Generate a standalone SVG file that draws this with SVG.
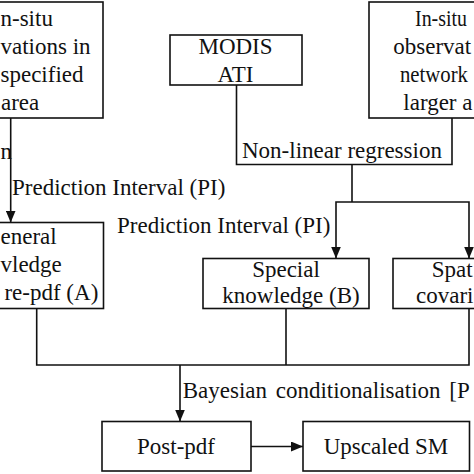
<svg xmlns="http://www.w3.org/2000/svg" width="474" height="474" viewBox="0 0 474 474">
<style>
.box{fill:#fff;stroke:#111;stroke-width:1.6}
.ln{fill:none;stroke:#111;stroke-width:1.6}
.t{font-family:"Liberation Serif","Times New Roman",serif;font-size:23px;fill:#111}
.c{text-anchor:middle}
.e{text-anchor:end}
</style>
<defs>
<marker id="ah" viewBox="0 0 12 10" markerUnits="userSpaceOnUse" markerWidth="12" markerHeight="10" refX="12" refY="5" orient="auto">
<path d="M0,0 L12,5 L0,10 z" fill="#111"/>
</marker>
</defs>
<rect width="474" height="474" fill="#fff"/>
<g id="connectors">
<path class="ln" d="M10.7,118 V222.5" marker-end="url(#ah)"/>
<path class="ln" d="M236.5,85 V164.5 H452 V118"/>
<path class="ln" d="M352,164.5 V202"/>
<path class="ln" d="M352,202 H336 V258.5" marker-end="url(#ah)"/>
<path class="ln" d="M352,202 H469 V258.5" marker-end="url(#ah)"/>
<path class="ln" d="M36.7,308.5 V365 H469 V308.5"/>
<path class="ln" d="M286,308.5 V365"/>
<path class="ln" d="M180,365 V421.5" marker-end="url(#ah)"/>
<path class="ln" d="M251,446.5 H303" marker-end="url(#ah)"/>
<text class="t" x="0.5" y="159">n</text>
<text class="t" x="242" y="158">Non-linear regression</text>
<text class="t" x="12" y="195">Prediction Interval (PI)</text>
<text class="t" x="117" y="232.7">Prediction Interval (PI)</text>
<text class="t" x="182.7" y="398" word-spacing="3">Bayesian conditionalisation [P</text>
</g>
<g id="node-insitu-specified">
<rect class="box" x="-20" y="2" width="123" height="116"/>
<text class="t" x="0.5" y="26">n-situ</text>
<text class="t" x="0.5" y="54">vations in</text>
<text class="t" x="0.5" y="82">specified</text>
<text class="t" x="1" y="110">area</text>
</g>
<g id="node-modis">
<rect class="box" x="170" y="35" width="132" height="50"/>
<text class="t c" x="235.5" y="53.5">MODIS</text>
<text class="t c" x="235.5" y="82">ATI</text>
</g>
<g id="node-insitu-network">
<rect class="box" x="369" y="2" width="120" height="116"/>
<text class="t" x="415" y="26" textLength="52" lengthAdjust="spacingAndGlyphs">In-situ</text>
<text class="t" x="393.3" y="54">observat</text>
<text class="t" x="400" y="82" textLength="68" lengthAdjust="spacingAndGlyphs">network</text>
<text class="t" x="403.3" y="110">larger a</text>
</g>
<g id="node-general">
<rect class="box" x="-20" y="222.5" width="123.5" height="86"/>
<text class="t" x="0.5" y="244">eneral</text>
<text class="t" x="0.5" y="272">vledge</text>
<text class="t e" x="98.3" y="300">re-pdf (A)</text>
</g>
<g id="node-special">
<rect class="box" x="203" y="258.5" width="166" height="50"/>
<text class="t c" x="286" y="276.5">Special</text>
<text class="t c" x="291" y="303.3">knowledge (B)</text>
</g>
<g id="node-spatial">
<rect class="box" x="393" y="258.5" width="100" height="50"/>
<text class="t" x="431.7" y="276.5">Spat</text>
<text class="t" x="416" y="303.3">covari</text>
</g>
<g id="node-postpdf">
<rect class="box" x="102" y="421.5" width="149" height="49.5"/>
<text class="t c" x="176" y="454">Post-pdf</text>
</g>
<g id="node-upscaled">
<rect class="box" x="303" y="421.5" width="166.5" height="49.5"/>
<text class="t c" x="386" y="454">Upscaled SM</text>
</g>
</svg>
